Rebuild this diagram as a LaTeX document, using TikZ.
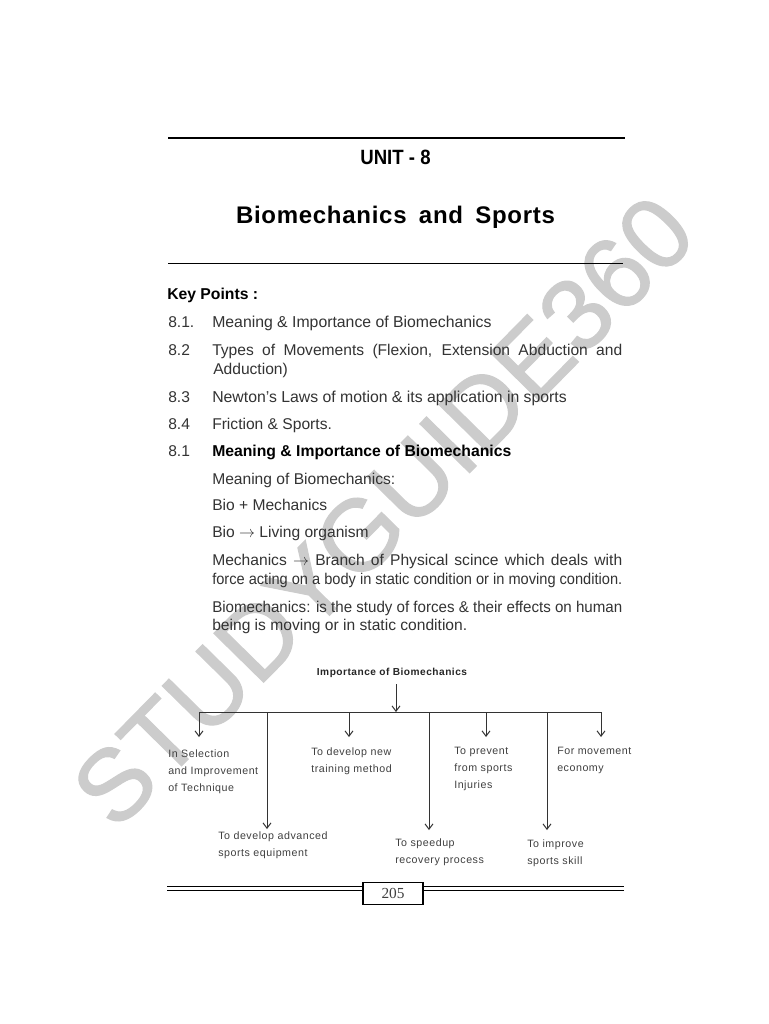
\documentclass[tikz,border=0pt]{standalone}
\usepackage{fontspec}
\usepackage{graphicx}
\usetikzlibrary{arrows.meta}
\setmainfont{Liberation Sans}
\newfontfamily\chartfont[LetterSpace=5]{Liberation Sans}
\newfontfamily\titlefont[LetterSpace=3]{Liberation Sans}
\newfontfamily\markfont[FakeBold=1.2]{Liberation Sans}
\newcommand{\fullline}[1]{\makebox[307.5pt][s]{#1}}
\newcommand{\fitline}[1]{\resizebox{307.5pt}{\height}{#1}}
\begin{document}
\begin{tikzpicture}[x=0.75pt,y=-0.75pt,
    body/.style={anchor=base west,inner sep=0pt,text=black!80,font=\fontsize{11.7}{14}\selectfont},
    widebody/.style={body,font=\fontsize{11.85}{14}\selectfont},
    bodybold/.style={body,text=black,font=\fontsize{11.8}{14}\selectfont\bfseries},
    chart/.style={anchor=north west,inner sep=0pt,align=left,text=black!75,font=\chartfont\fontsize{8}{12.8}\selectfont},
    branch/.style={-{Straight Barb[length=4pt,width=6pt]},draw=black!80,line width=0.75pt}]
    \useasboundingbox[fill=white] (0,0) rectangle (768,1024);
    % watermark
    \node[rotate=45.5,text=black!20,inner sep=0pt,font=\markfont\fontsize{76}{80}\selectfont] (mark) at (383,511) {STUDYGUIDE360};
    % head
    \coordinate (topl) at (168,138);
    \coordinate (topr) at (625,138);
    \coordinate (midl) at (168,263);
    \coordinate (midr) at (623,263);
    \draw[line width=1.9pt] (topl)--(topr);
    \draw[line width=0.6pt] (midl)--(midr);
    \node[inner sep=0pt,font=\fontsize{15.5}{18}\selectfont\bfseries] (unit) at (395.5,157) {\scalebox{.9}[1]{UNIT - 8}};
    \node[inner sep=0pt,font=\titlefont\fontsize{18}{22}\selectfont\bfseries] (title) at (395.5,217) {\makebox[239.25pt][s]{Biomechanics and Sports}};
    % text
    \node[bodybold] (key) at (167,299) {Key Points :};
    \node[body] (n1) at (168,327) {8.1.};
    \node[widebody] (t1) at (212,327) {Meaning \& Importance of Biomechanics};
    \node[body] (n2) at (168,355) {8.2};
    \node[body] (t2) at (212,355) {\fullline{Types of Movements (Flexion, Extension Abduction and}};
    \node[body] (t2b) at (213,374) {Adduction)};
    \node[body] (n3) at (168,402) {8.3};
    \node[widebody] (t3) at (212,402) {Newton’s Laws of motion \& its application in sports};
    \node[body] (n4) at (168,429) {8.4};
    \node[body] (t4) at (212,429) {Friction \& Sports.};
    \node[body] (n5) at (168,456) {8.1};
    \node[bodybold] (t5) at (212,456) {Meaning \& Importance of Biomechanics};
    \node[body] (t6) at (212,484) {Meaning of Biomechanics:};
    \node[body] (t7) at (212,510) {Bio + Mechanics};
    \node[body] (t8) at (212,537) {Bio $\rightarrow$ Living organism};
    \node[body] (t9) at (212,565) {\fullline{Mechanics $\rightarrow$ Branch of Physical scince which deals with}};
    \node[body] (t10) at (212,584) {\fitline{force acting on a body in static condition or in moving condition.}};
    \node[body] (t11) at (212,612) {\fitline{Biomechanics: is the study of forces \& their effects on human}};
    \node[body] (t12) at (212,630) {being is moving or in static condition.};
    % chart
    \node[inner sep=0pt,text=black!85,font=\chartfont\fontsize{7.6}{10}\selectfont\bfseries] (imp) at (392,673) {Importance of Biomechanics};
    \coordinate (bar) at (396,712);
    \coordinate (barl) at (199,712);
    \coordinate (barr) at (601,712);
    \draw[draw=black!80,line width=0.75pt] (barl)--(barr);
    \coordinate (top) at (396,684);
    \draw[branch] (top)--(bar);
    \node[chart] (sel) at (168,749) {In Selection\\and Improvement\\of Technique};
    \node[chart] (adv) at (218,831) {To develop advanced\\sports equipment};
    \node[chart] (new) at (311,747) {To develop new\\training method};
    \node[chart] (spd) at (395,838) {To speedup\\recovery process};
    \node[chart] (inj) at (454,747) {To prevent\\from sports\\Injuries};
    \node[chart] (skl) at (527,839) {To improve\\sports skill};
    \node[chart] (eco) at (557,747) {For movement\\economy};
    \foreach \x/\yend/\name in {199/737/a,267/829/b,349/737/c,429/830/d,486/737/e,547/830/f,601/737/g}{
        \coordinate (s\name) at (\x,712);
        \coordinate (e\name) at (\x,\yend);
        \draw[branch] (s\name)--(e\name);
    }
    % foot
    \node[draw=black,line width=0.9pt,minimum width=45pt,minimum height=17pt,inner sep=0pt,text=black!75,font=\fontsize{11.5}{13}\selectfont] (page) at (393,893.5) {\fontspec{Liberation Serif}205};
    \coordinate (footl) at (167,888.3);
    \coordinate (footr) at (624,888.3);
    \draw[double,double distance=2pt,line width=0.9pt] (footl)--(footl-|page.west);
    \draw[double,double distance=2pt,line width=0.9pt] (footr)--(footr-|page.east);
\end{tikzpicture}
\end{document}
